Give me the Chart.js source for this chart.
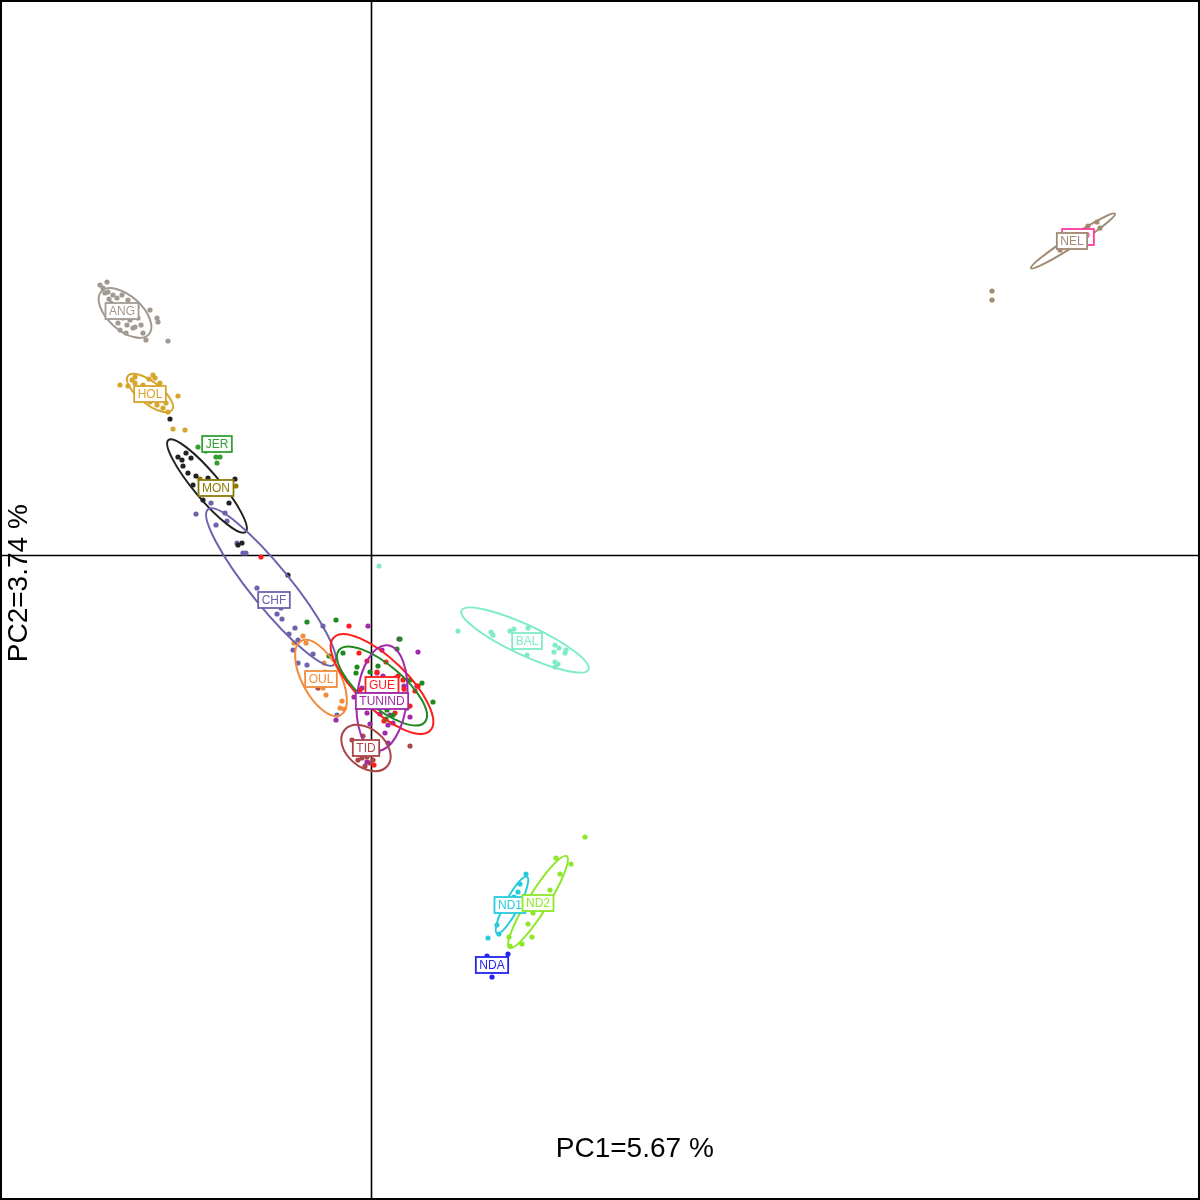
<!DOCTYPE html>
<html lang="en">
<head>
    <meta charset="UTF-8">
    <title>PCA</title>
    <script src="https://cdn.jsdelivr.net/npm/chart.js"></script>
    <style>
        body { margin: 0; background: #fff; }
        canvas { display: block; }
    </style>
</head>
<body>
    <canvas id="pca" width="1200" height="1200"></canvas>
    <script>
        // axis titles
        const pc1Title = 'PC1=5.67 %';
        const pc2Title = 'PC2=3.74 %';

        // individual scores per population [PC1, PC2]
        const ANG = [[-2.71,2.70],[-2.68,2.67],[-2.64,2.73],[-2.66,2.62],[-2.63,2.63],[-2.58,2.60],[-2.49,2.60],[-2.54,2.57],
            [-2.43,2.55],[-2.34,2.48],[-2.21,2.45],[-2.14,2.37],[-2.13,2.33],[-2.28,2.22],[-2.25,2.15],[-2.03,2.14],
            [-2.53,2.32],[-2.51,2.25],[-2.44,2.30],[-2.38,2.27],[-2.41,2.35],[-2.58,2.42],[-2.56,2.47],[-2.33,2.37],[-2.48,2.37],
            [-2.60,2.52],[-2.36,2.28],[-2.30,2.30],[-2.45,2.22],[-2.62,2.56]];
        const HOL = [[-2.51,1.70],[-2.39,1.75],[-2.36,1.78],[-2.18,1.80],[-2.16,1.77],[-2.28,1.70],[-2.11,1.72],[-1.93,1.59],
            [-2.21,1.53],[-2.14,1.50],[-2.08,1.47],[-2.03,1.43],[-1.98,1.26],[-1.86,1.25],[-2.33,1.63],[-2.25,1.60],[-2.11,1.59],[-2.43,1.69],
            [-2.36,1.72],[-2.05,1.52],[-2.22,1.76]];
        const BLK = [[-2.01,1.36],[-1.93,0.98],[-1.89,0.95],[-1.85,1.02],[-1.80,0.97],[-1.88,0.89],[-1.83,0.82],[-1.75,0.79],
            [-1.36,0.76],[-1.78,0.70],[-1.68,0.55],[-1.42,0.52],[-1.29,0.12],[-1.33,0.10],[-0.83,-0.20],[-1.63,0.77],[-1.50,0.66]];
        const JER = [[-1.73,1.08],[-1.55,0.98],[-1.51,0.98],[-1.54,0.92],[-1.64,1.17],[-1.45,1.17],[-1.41,1.05],[-1.65,1.04],[-1.54,1.15],[-1.49,1.09]];
        const MON = [[-1.66,0.73],[-1.41,0.73],[-1.35,0.69],[-1.63,0.61],[-1.71,0.76],[-1.51,0.72]];
        const CHF = [[-1.75,0.41],[-1.60,0.52],[-1.46,0.42],[-1.44,0.34],[-1.55,0.30],[-1.34,0.12],[-1.28,0.02],[-1.25,0.02],
            [-1.14,-0.33],[-0.90,-0.53],[-0.94,-0.59],[-0.89,-0.64],[-0.76,-0.73],[-0.82,-0.79],[-0.48,-0.71],[-0.73,-0.85],
            [-0.78,-0.95],[-0.58,-0.99],[-0.73,-1.08],[-0.64,-1.10],[-0.34,-1.60],[-0.64,-1.18]];
        const OUL = [[-0.68,-0.81],[-0.77,-0.88],[-0.65,-0.88],[-0.47,-1.08],[-0.46,-1.17],[-0.48,-1.33],[-0.45,-1.40],
            [-0.29,-1.46],[-0.31,-1.53],[-0.27,-1.54],[-0.55,-1.21],[-0.59,-1.29],[-0.41,-1.30]];
        const GRN = [[-0.64,-0.67],[-0.35,-0.65],[-0.42,-1.01],[-0.28,-0.98],[-0.14,-1.12],[-0.15,-1.18],[0.26,-0.94],[0.29,-0.84],
            [0.51,-1.28],[0.62,-1.47],[0.16,-1.55],[0.22,-1.60],[0.15,-1.64],[0.07,-1.11],[0.39,-1.25],[-0.01,-1.17]];
        const GUE = [[-1.10,-0.02],[-0.22,-0.71],[-0.12,-0.98],[-0.04,-1.06],[0.06,-1.17],[0.15,-1.07],[0.32,-1.25],[0.33,-1.34],
            [0.47,-1.31],[0.44,-1.36],[0.33,-1.39],[0.24,-1.58],[0.39,-1.51],[0.13,-1.66],[-0.01,-1.25],[0.24,-1.23],[-0.11,-1.35],
            [0.03,-2.10],[0.27,-1.21]];
        const TUNIND = [[-0.03,-0.71],[0.28,-0.84],[0.47,-0.97],[0.11,-0.95],[0.06,-1.18],[0.12,-1.21],[-0.17,-1.42],[0.33,-1.31],
            [0.46,-1.31],[-0.04,-1.58],[0.09,-1.59],[0.19,-1.60],[0.17,-1.70],[0.22,-1.68],[0.39,-1.62],[-0.35,-1.65],[0.36,-1.53],
            [0.17,-1.88],[-0.04,-2.07],[0.14,-1.78],[0.29,-1.42],[-0.09,-1.33],[0.04,-1.35],[-0.01,-1.69],[-0.11,-1.49]];
        const TID = [[-0.08,-1.81],[-0.16,-1.92],[-0.09,-2.03],[-0.04,-2.02],[-0.13,-2.05],[-0.01,-2.08],[-0.06,-2.11],[0.02,-2.05],
            [0.39,-1.91],[-0.53,-1.33],[-0.19,-1.85],[0.07,-1.97]];
        const BAL = [[0.08,-0.11],[0.87,-0.76],[1.20,-0.77],[1.22,-0.80],[1.39,-0.76],[1.43,-0.74],[1.57,-0.73],[1.56,-1.00],
            [1.84,-0.90],[1.88,-0.93],[1.95,-0.95],[1.94,-0.98],[1.84,-1.07],[1.87,-1.09],[1.84,-1.12],[1.83,-0.97]];
        const ND1 = [[1.55,-3.19],[1.49,-3.29],[1.47,-3.37],[1.43,-3.42],[1.26,-3.70],[1.28,-3.79],[1.17,-3.83],[1.37,-3.55]];
        const ND2 = [[2.14,-2.82],[1.85,-3.03],[2.00,-3.09],[1.89,-3.19],[1.79,-3.35],[1.71,-3.55],[1.62,-3.58],[1.57,-3.69],
            [1.38,-3.82],[1.61,-3.82],[1.51,-3.89],[1.39,-3.91]];
        const NDA = [[1.16,-4.01],[1.37,-3.99],[1.21,-4.22],[1.24,-4.05]];
        const NEL = [[6.21,2.64],[6.21,2.55],[7.17,3.29],[7.26,3.33],[7.29,3.27],[6.89,3.05],[7.09,3.15]];
        const NEP = [[7.08,3.20],[7.12,3.22]];

        // inertia ellipses: [group, centre PC1, centre PC2, semi-major, semi-minor, angle deg]
        const ellipseParams = [
            ['ANG', -2.46, 2.42, 0.32, 0.17, -42],
            ['HOL', -2.21, 1.62, 0.28, 0.11, -38],
            ['BLK', -1.64, 0.69, 0.60, 0.13, -50],
            ['CHF', -1.00, -0.32, 1.00, 0.20, -51],
            ['OUL', -0.50, -1.23, 0.42, 0.19, -62],
            ['GUE', 0.11, -1.29, 0.67, 0.25, -44],
            ['GRN', 0.11, -1.31, 0.56, 0.21, -40],
            ['TUNIND', 0.11, -1.43, 0.53, 0.25, 84],
            ['TID', -0.05, -1.93, 0.28, 0.19, -40],
            ['BAL', 1.54, -0.85, 0.70, 0.15, -25],
            ['ND1', 1.41, -3.50, 0.32, 0.07, 62],
            ['ND2', 1.67, -3.47, 0.54, 0.10, 58],
            ['NEP', 7.09, 3.20, 0.06, 0.02, 33],
            ['NEL', 7.02, 3.14, 0.50, 0.05, 33]
        ];

        // label anchors: [group, PC1, PC2]
        const labelPos = [
            ['ANG', -2.49, 2.44], ['HOL', -2.21, 1.61], ['JER', -1.54, 1.11], ['MON', -1.55, 0.67],
            ['CHF', -0.97, -0.45], ['OUL', -0.50, -1.24], ['GUE', 0.11, -1.30], ['TUNIND', 0.11, -1.46],
            ['TID', -0.05, -1.93], ['BAL', 1.56, -0.86], ['ND1', 1.39, -3.50], ['ND2', 1.67, -3.48],
            ['NDA', 1.21, -4.10], ['NEP', 7.07, 3.18], ['NEL', 7.01, 3.14]
        ];

        const groups = { ANG, HOL, BLK, JER, MON, CHF, OUL, GRN, GUE, TUNIND, TID, BAL, ND1, ND2, NDA, NEL, NEP };

        const palette = {
            ANG: '#a29a92', HOL: '#d6a52c', BLK: '#222222', JER: '#34a034', MON: '#8c7a04',
            CHF: '#6b63ad', OUL: '#f28c3c', GRN: '#1f8a1f', GUE: '#ff1c1c', TUNIND: '#a02aa8',
            TID: '#ab4646', BAL: '#7fecc6', ND1: '#27cbdc', ND2: '#8ce828', NDA: '#2424f0',
            NEL: '#a08a72', NEP: '#ff3aa0'
        };

        const datasets = Object.keys(groups).map(name => ({
            label: name,
            data: groups[name].map(p => ({ x: p[0], y: p[1] })),
            backgroundColor: palette[name],
            borderWidth: 0,
            pointRadius: 2.6
        }));

        const overlay = {
            id: 'overlay',
            beforeDatasetsDraw(chart) {
                const ctx = chart.ctx, xs = chart.scales.x, ys = chart.scales.y;
                ctx.save();
                ctx.strokeStyle = '#000';
                ctx.lineWidth = 1.6;
                const x0 = Math.round(xs.getPixelForValue(0)) + 0.5;
                const y0 = Math.round(ys.getPixelForValue(0)) + 0.5;
                ctx.beginPath();
                ctx.moveTo(x0, chart.chartArea.top);
                ctx.lineTo(x0, chart.chartArea.bottom);
                ctx.moveTo(chart.chartArea.left, y0);
                ctx.lineTo(chart.chartArea.right, y0);
                ctx.stroke();
                ctx.restore();
            },
            afterDatasetsDraw(chart) {
                const ctx = chart.ctx, xs = chart.scales.x, ys = chart.scales.y;
                ctx.save();
                ellipseParams.forEach(([g, cx, cy, a, b, ang]) => {
                    const px = xs.getPixelForValue(cx), py = ys.getPixelForValue(cy);
                    const ra = Math.abs(xs.getPixelForValue(cx + a) - px);
                    const rb = Math.abs(xs.getPixelForValue(cx + b) - px);
                    ctx.beginPath();
                    ctx.ellipse(px, py, ra, rb, -ang * Math.PI / 180, 0, Math.PI * 2);
                    ctx.strokeStyle = palette[g];
                    ctx.lineWidth = 2;
                    ctx.stroke();
                });
                ctx.font = '12px "Liberation Sans", Arial, sans-serif';
                ctx.textAlign = 'center';
                ctx.textBaseline = 'middle';
                labelPos.forEach(([g, lx, ly]) => {
                    const px = xs.getPixelForValue(lx), py = ys.getPixelForValue(ly);
                    const w = ctx.measureText(g).width + 7, h = 16;
                    ctx.fillStyle = '#fff';
                    ctx.fillRect(px - w / 2, py - h / 2, w, h);
                    ctx.strokeStyle = palette[g];
                    ctx.lineWidth = 1.8;
                    ctx.strokeRect(px - w / 2, py - h / 2, w, h);
                    ctx.fillStyle = palette[g];
                    ctx.fillText(g, px, py + 0.5);
                });
                // axis titles
                const area = chart.chartArea;
                ctx.fillStyle = '#000';
                ctx.font = '28px "Liberation Sans", Arial, sans-serif';
                ctx.fillText(pc1Title, area.left + area.width * 0.529, area.top + area.height * 0.958);
                ctx.save();
                ctx.translate(area.left + 19, area.top + area.height * 0.486);
                ctx.rotate(-Math.PI / 2);
                ctx.fillText(pc2Title, 0, 0);
                ctx.restore();
                // frame
                ctx.strokeStyle = '#000';
                ctx.lineWidth = 2;
                ctx.strokeRect(area.left + 1, area.top + 1, area.width - 2, area.height - 2);
                ctx.restore();
            }
        };

        new Chart(document.getElementById('pca').getContext('2d'), {
            type: 'scatter',
            data: { datasets },
            options: {
                responsive: false,
                animation: false,
                devicePixelRatio: 1,
                layout: { padding: 0, autoPadding: false },
                plugins: { legend: { display: false }, tooltip: { enabled: false } },
                scales: {
                    x: { type: 'linear', min: -3.71, max: 8.29, display: false },
                    y: { type: 'linear', min: -6.45, max: 5.55, display: false }
                }
            },
            plugins: [overlay]
        });
    </script>
</body>
</html>
